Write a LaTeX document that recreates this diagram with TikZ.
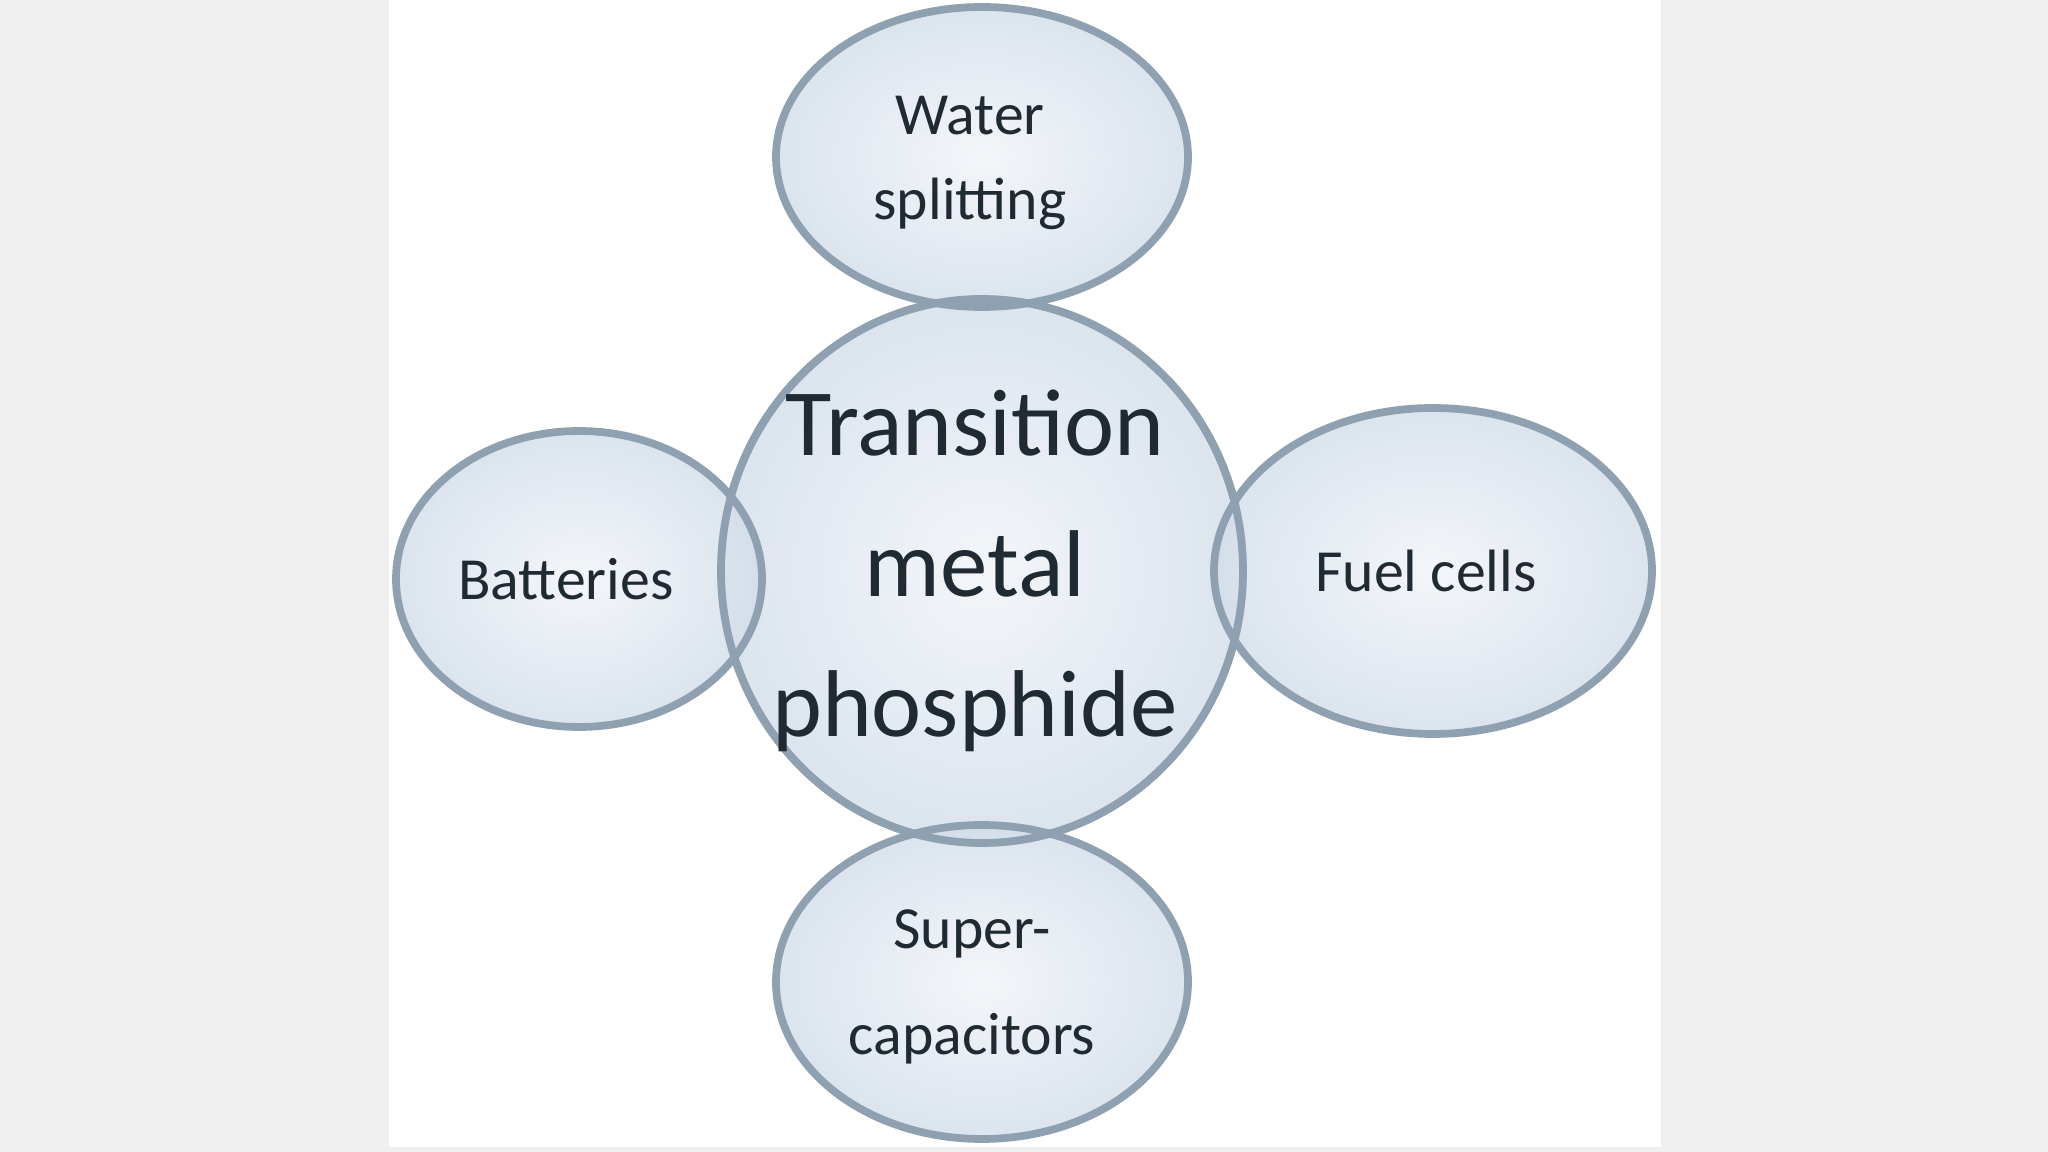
\documentclass[tikz,border=0pt]{standalone}
\usepackage{fontspec}
\setmainfont{Carlito}
\begin{document}
\begin{tikzpicture}[x=0.1mm,y=-0.1mm,
  bub/.style={draw=bord,line width=2.2pt,fill=fillc,fill opacity=0.55,inner color=white,outer color=fillc},
  lab/.style={font=\fontsize{17}{24}\selectfont,text=txt,align=center}]
\definecolor{bord}{HTML}{8FA0B0}
\definecolor{fillc}{HTML}{D3DEEA}
\definecolor{txt}{HTML}{1F2A33}
\fill[gray!12] (0,0) rectangle (2048,1152);
\fill[white] (389,0) rectangle (1661,1147);
\useasboundingbox (0,0) rectangle (2048,1152);
\path[bub] (982,571) ellipse [x radius=261,y radius=272];
\path[bub] (982,157) ellipse [x radius=206,y radius=150];
\path[bub] (579,579) ellipse [x radius=183,y radius=148];
\path[bub] (1433,571) ellipse [x radius=219,y radius=163];
\path[bub] (982,982) ellipse [x radius=206,y radius=157];
\draw[bord,line width=2.2pt] (982,571) ellipse [x radius=261,y radius=272];
\node[lab,font=\fontsize{27}{40}\selectfont] (c) at (975,571) {Transition\\metal\\phosphide};
\node[lab] (w) at (970,163) {Water\\splitting};
\node[lab] (b) at (566,579) {Batteries};
\node[lab] (f) at (1426,571) {Fuel cells};
\node[lab,font=\fontsize{17}{30}\selectfont] (s) at (972,987) {Super-\\capacitors};
\end{tikzpicture}
\end{document}
